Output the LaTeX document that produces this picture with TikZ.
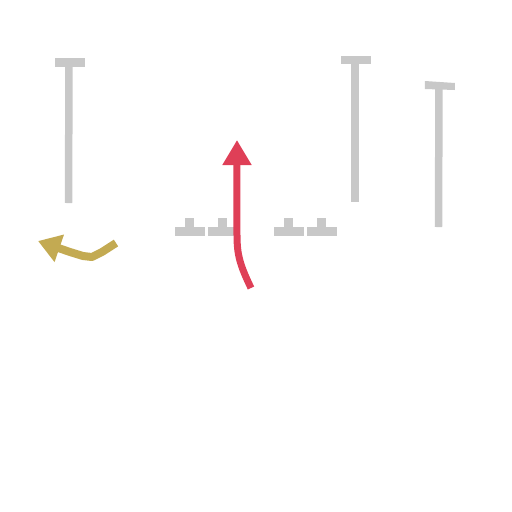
\documentclass[tikz,border=0pt]{standalone}
\usepackage{tikz}
\usetikzlibrary{arrows.meta}

\definecolor{postgray}{HTML}{C8C8C8}
\definecolor{runred}{HTML}{DF3F57}
\definecolor{turngold}{HTML}{C3AA52}

\begin{document}
\begin{tikzpicture}[x=0.02cm, y=-0.02cm,
                    post/.style={draw=postgray, line width=0.15cm},
                    postbar/.style={fill=postgray},
                    block/.style={fill=postgray},
                    runpath/.style={draw=runred, line width=0.14cm, -{Triangle[length=0.5cm, width=0.55cm]}},
                    turnpath/.style={draw=turngold, line width=0.16cm, line join=round, -{Triangle[length=0.45cm, width=0.55cm]}},
                   ]
  \useasboundingbox (0,0) rectangle (512,512);

  %Posts
  \fill[postbar] (55,58) rectangle (85,67);
  \draw[post] (69,66) -- (68.5,203);
  \fill[postbar] (341,56) rectangle (371,64);
  \draw[post] (355,63) -- (355,202);
  \fill[postbar] (425,81) -- (455,83) -- (455,90) -- (425,89) -- cycle;
  \draw[post] (439,88) -- (438.5,227);

  %Blocks
  \foreach \bx in {175,208,274,307} {
    \fill[block] (\bx,227) rectangle ++(30,9);
    \fill[block] (\bx+10,218) rectangle ++(9,10);
  }

  %Arrows
  \draw[runpath] (251,288) .. controls (240,265) and (237,255) .. (237,235) -- (237,140);
  \draw[turnpath] (116,243) -- (102,252) -- (92,257) -- (83,256) -- (70,252) -- (38,241);
\end{tikzpicture}
\end{document}
